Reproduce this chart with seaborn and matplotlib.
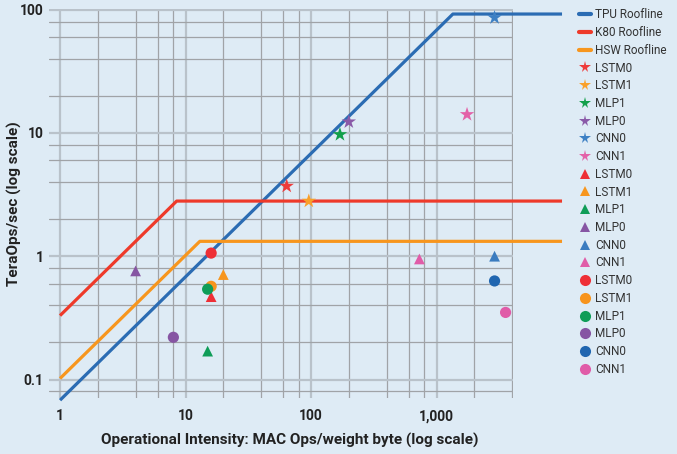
"""Roofline chart: TPU vs K80 vs Haswell, six NN workloads."""
import pandas as pd
import matplotlib
matplotlib.use('Agg')
import matplotlib.pyplot as plt
import seaborn as sns
from matplotlib.lines import Line2D
from matplotlib.ticker import LogLocator, FuncFormatter, NullFormatter

# Roofline vertices (start, ridge point, end)
tpu_roof_x = [1, 1350, 10000]
tpu_roof_y = [0.068, 92, 92]
k80_roof_x = [1, 8.5, 10000]
k80_roof_y = [0.33, 2.8, 2.8]
hsw_roof_x = [1, 13, 10000]
hsw_roof_y = [0.102, 1.32, 1.32]

# Workloads (operational intensity, TeraOps/sec)
workloads = ['LSTM0', 'LSTM1', 'MLP1', 'MLP0', 'CNN0', 'CNN1']
tpu_x = [64, 96, 170, 200, 2900, 1750]
tpu_y = [3.7, 2.8, 9.7, 12.3, 86, 14.1]
k80_x = [16, 20, 15, 4, 2900, 730]
k80_y = [0.47, 0.71, 0.17, 0.76, 1.0, 0.95]
hsw_x = [16, 16, 15, 8, 2900, 3550]
hsw_y = [1.06, 0.57, 0.54, 0.22, 0.63, 0.35]

# Colours
bg = '#deebf5'
roof_colors = {'TPU': '#2b6cb3', 'K80': '#ee3a2a', 'HSW': '#f7961e'}
star_colors = ['#ee3b3b', '#f9a02a', '#12a04a', '#8a5aa8', '#3d80c4', '#e362a8']
tri_colors = ['#ee2f36', '#f7961e', '#0f9d58', '#8655a3', '#3a7cc0', '#e05ca8']
dot_colors = ['#ee2f36', '#f7941d', '#0f9d58', '#8655a3', '#2066b0', '#e05ca8']

sns.set_style('white')
plt.rcParams['font.family'] = ['Roboto', 'DejaVu Sans']

fig = plt.figure(figsize=(6.77, 4.54), dpi=100, facecolor=bg)
ax = fig.add_axes([0.0724, 0.1233, 0.6854, 0.8568])
ax.set_facecolor(bg)

# Rooflines
roofs = [('TPU', tpu_roof_x, tpu_roof_y),
         ('K80', k80_roof_x, k80_roof_y),
         ('HSW', hsw_roof_x, hsw_roof_y)]
for name, rx, ry in roofs:
    sns.lineplot(x=rx, y=ry, ax=ax, color=roof_colors[name], lw=2.3,
                 sort=False, estimator=None, legend=False)
for ln in ax.lines:
    ln.set_clip_on(False)
    ln.set_solid_capstyle('butt')

# Workload points
points = [
    (tpu_x, tpu_y, '*', star_colors, 120),
    (k80_x, k80_y, '^', tri_colors, 60),
    (hsw_x, hsw_y, 'o', dot_colors, 65),
]
for px, py, mk, cols, size in points:
    df = pd.DataFrame({'x': px, 'y': py, 'workload': workloads})
    sns.scatterplot(data=df, x='x', y='y', hue='workload',
                    palette=dict(zip(workloads, cols)), marker=mk, s=size,
                    linewidth=0, ax=ax, legend=False, zorder=5, clip_on=False)

ax.set_xscale('log')
ax.set_yscale('log')
ax.set_xlim(0.817, 4070)
ax.set_ylim(0.0708, 101)

ax.xaxis.set_major_locator(LogLocator(base=10))
ax.yaxis.set_major_locator(LogLocator(base=10))
ax.xaxis.set_minor_locator(LogLocator(base=10, subs=(2, 4, 6, 8)))
ax.yaxis.set_minor_locator(LogLocator(base=10, subs=(2, 4, 6, 8)))
ax.xaxis.set_major_formatter(FuncFormatter(lambda v, p: f'{v:,g}'))
ax.yaxis.set_major_formatter(FuncFormatter(lambda v, p: f'{v:g}'))
ax.xaxis.set_minor_formatter(NullFormatter())
ax.yaxis.set_minor_formatter(NullFormatter())

ax.grid(which='major', color='#b9c2ca', lw=1.6)
ax.grid(which='minor', color='#a0a3a7', lw=0.9)
ax.set_axisbelow(True)
ax.tick_params(which='both', length=0)
ax.tick_params(axis='x', pad=8, labelsize=10, labelcolor='#222222')
ax.tick_params(axis='y', pad=4, labelsize=10, labelcolor='#222222')
for lab in ax.get_xticklabels() + ax.get_yticklabels():
    lab.set_fontweight('bold')
for sp in ax.spines.values():
    sp.set_visible(False)

ax.set_xlabel('Operational Intensity: MAC Ops/weight byte (log scale)',
              fontsize=11, fontweight='bold', color='#222222')
ax.set_ylabel('TeraOps/sec (log scale)', fontsize=11, fontweight='bold',
              color='#222222')
ax.xaxis.set_label_coords(0.519, -0.09)
ax.yaxis.set_label_coords(-0.058, 0.5)

# Legend
handles = []
labels = []
for name in ['TPU', 'K80', 'HSW']:
    handles.append(Line2D([], [], color=roof_colors[name], lw=3))
    labels.append(f'{name} Roofline')
for mk, cols, ms in [('*', star_colors, 8.5), ('^', tri_colors, 7), ('o', dot_colors, 8)]:
    for w, c in zip(workloads, cols):
        handles.append(Line2D([], [], ls='', marker=mk, color=c, ms=ms, mew=0))
        labels.append(w)
fig.legend(handles, labels, loc='upper left', bbox_to_anchor=(0.848, 0.992),
           frameon=False, fontsize=8.5, handlelength=1.0, handletextpad=0.4,
           labelspacing=0.4, borderaxespad=0, labelcolor='#333333')

fig.savefig('out.png', dpi=100, facecolor=bg)
